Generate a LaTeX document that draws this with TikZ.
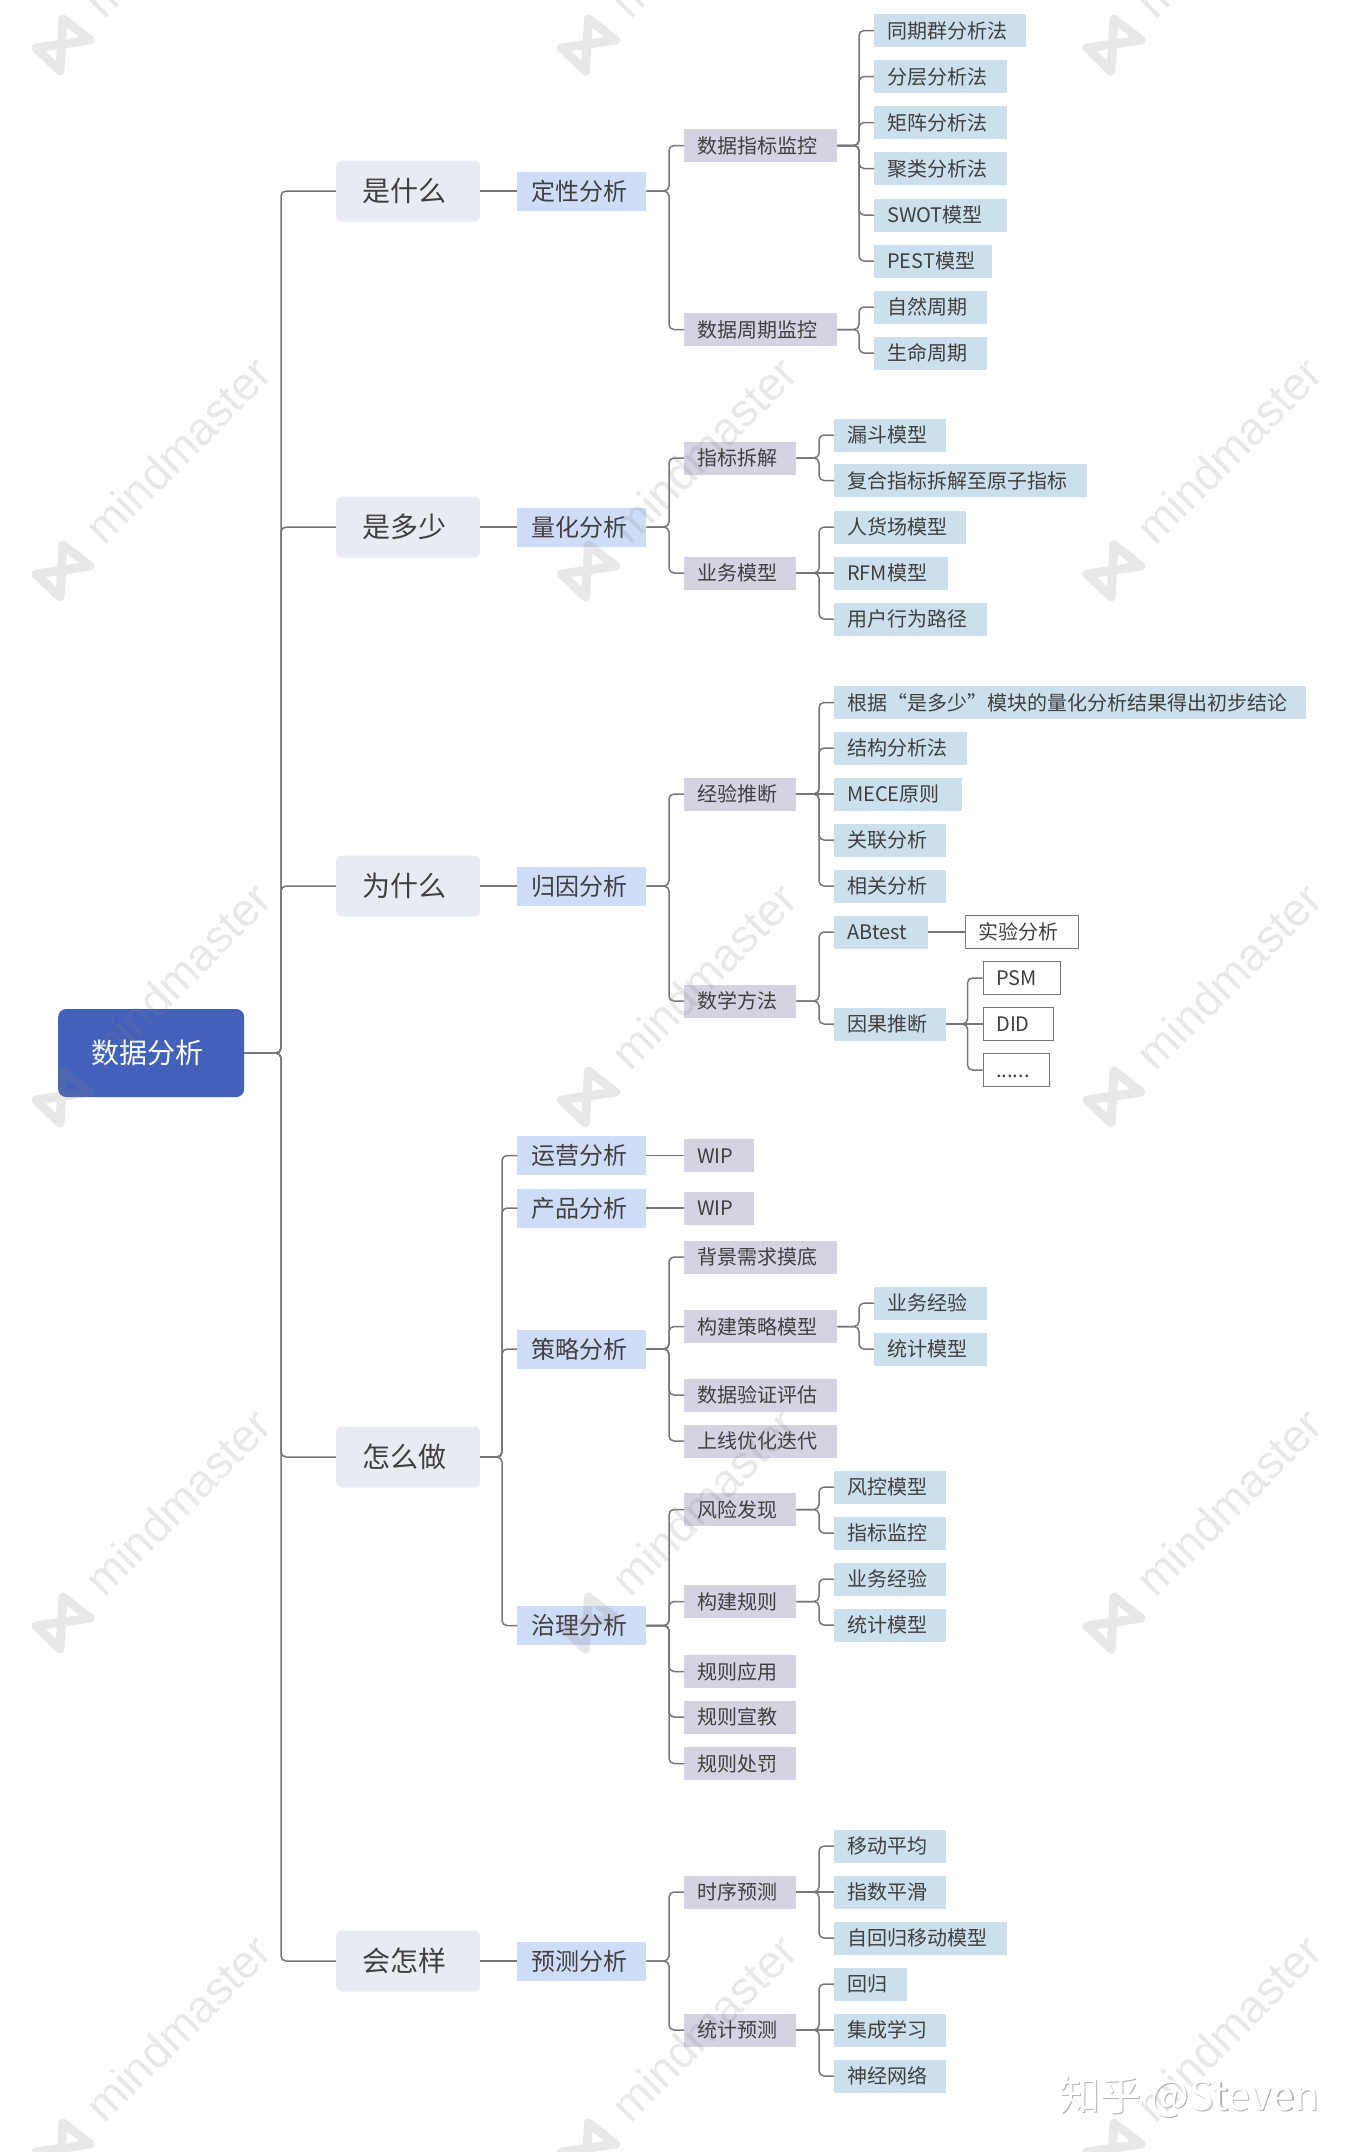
\documentclass[tikz,border=0pt]{standalone}
\usepackage{fontspec}
\setmainfont{Noto Sans CJK SC}
\newfontfamily\markfont{Liberation Sans}
\definecolor{rootblue}{HTML}{4361BB}
\definecolor{topicgray}{HTML}{E9EBF3}
\definecolor{branchblue}{HTML}{CFDCF8}
\definecolor{itemgray}{HTML}{D3D3E2}
\definecolor{leafblue}{HTML}{CCDFEC}
\definecolor{inkgray}{HTML}{404040}
\definecolor{linegray}{HTML}{767676}
\tikzset{
	cell/.style={anchor=west,align=left,inner ysep=0pt,text=inkgray},
	rootbox/.style={cell,fill=rootblue,text=white,rounded corners=8pt,inner xsep=33pt,text width=#1-66pt,minimum height=88pt,
		font=\fontsize{28}{34}\selectfont,text height=25pt,text depth=4pt},
	topicbox/.style={cell,fill=topicgray,rounded corners=6pt,inner xsep=26pt,text width=#1-52pt,minimum height=61pt,
		font=\fontsize{28}{34}\selectfont,text height=25pt,text depth=4pt},
	branchbox/.style={cell,fill=branchblue,inner xsep=14pt,text width=#1-28pt,minimum height=39pt,
		font=\fontsize{24}{29}\selectfont,text height=21.5pt,text depth=3.4pt},
	itembox/.style={cell,fill=itemgray,inner xsep=13pt,text width=#1-26pt,minimum height=33pt,
		font=\fontsize{20}{24}\selectfont,text height=18pt,text depth=2.8pt},
	leafbox/.style={itembox=#1,fill=leafblue},
	plainbox/.style={itembox=#1,fill=white,draw=linegray,line width=1.5pt},
	link/.style={draw=linegray,line width=1.5pt,rounded corners=5pt},
	markword/.style={text=gray,opacity=.18,rotate=45,font=\markfont\fontsize{46}{56}\selectfont},
	marklogo/.style={draw=gray,opacity=.18,line width=9pt,line join=round},
}
\begin{document}
\begin{tikzpicture}[x=1pt,y=-1pt]
	\useasboundingbox (0,0) rectangle (1355,2152);
	% root and topics
	\node[rootbox=186pt] (root) at (58,1053) {数据分析};
	\foreach \n/\yy/\lab in {what/191/是什么,much/527/是多少,why/886/为什么,how/1457/怎么做,next/1961/会怎样}
	\node[topicbox=144pt] (\n) at (336,\yy) {\lab};
	% branches
	\foreach \n/\yy/\lab in {qual/191/定性分析,quant/527/量化分析,cause/886/归因分析,oper/1155.5/运营分析,prod/1208/产品分析,
		strat/1349/策略分析,gov/1625.5/治理分析,fore/1961/预测分析}
	\node[branchbox=129pt] (\n) at (517,\yy) {\lab};
	% items
	\foreach \n/\yy/\w/\lab in {monitor/145.5/153/数据指标监控,cycle/329.5/153/数据周期监控,split/458/112/指标拆解,bizmodel/573/112/业务模型,
		exper/794/112/经验推断,math/1001/112/数学方法,wipa/1155.5/70/WIP,wipb/1208/70/WIP,need/1257/153/背景需求摸底,
		build/1326.5/153/构建策略模型,verify/1395/153/数据验证评估,online/1441/153/上线优化迭代,risk/1509.5/112/风险发现,
		rules/1601.5/112/构建规则,apply/1671.5/112/规则应用,teach/1717/112/规则宣教,punish/1763.5/112/规则处罚,
		series/1892/112/时序预测,statpred/2030/112/统计预测}
	\node[itembox=\w pt] (\n) at (684,\yy) {\lab};
	% leaves of the outer column
	\foreach \n/\yy/\w/\lab in {cohort/30.5/152/同期群分析法,layer/76.5/133/分层分析法,matrix/122.5/133/矩阵分析法,cluster/168.5/133/聚类分析法,
		swot/215/133/SWOT模型,pest/261/118/PEST模型,natural/307/113/自然周期,life/353/113/生命周期,expa/1303/113/业务经验,statb/1349/113/统计模型}
	\node[leafbox=\w pt] (\n) at (874,\yy) {\lab};
	% leaves of the inner column
	\foreach \n/\yy/\w/\lab in {funnel/435/112/漏斗模型,atom/480.5/253/复合指标拆解至原子指标,people/527/132/人货场模型,rfm/573/114/RFM模型,
		path/619/153/用户行为路径,prelim/702.5/472/根据“是多少”模块的量化分析结果得出初步结论,struct/748/133/结构分析法,mece/794/128/MECE原则,
		assoc/840/112/关联分析,corr/886/112/相关分析,abtest/932/94/ABtest,causal/1024/112/因果推断,riskmodel/1487/112/风控模型,
		indic/1533/112/指标监控,expb/1579/112/业务经验,stata/1625/112/统计模型,moving/1846/112/移动平均,smooth/1892/112/指数平滑,
		arma/1938/173/自回归移动模型,regress/1984/73/回归,ensemble/2030/112/集成学习,neural/2076/112/神经网络}
	\node[leafbox=\w pt] (\n) at (834,\yy) {\lab};
	% outlined boxes
	\foreach \n/\xx/\yy/\w/\lab in {trial/964.5/932/113/实验分析,psm/982.5/978/77/PSM,did/982.5/1024/70/DID}
	\node[plainbox=\w pt] (\n) at (\xx,\yy) {\lab};
	\node[plainbox=66pt] (more) at (982.5,1070) {......};
	% connectors
	\foreach \a/\b in {root/what,root/much,root/why,root/how,root/next}
	\draw[link] (\a.east) -| ([xshift=-55pt]\b.west) -- (\b.west);
	\foreach \a/\b in {how/oper,how/prod,how/strat,how/gov,qual/monitor,qual/cycle,quant/split,quant/bizmodel,cause/exper,cause/math,
		strat/need,strat/build,strat/verify,strat/online,gov/risk,gov/rules,gov/apply,gov/teach,gov/punish,fore/series,fore/statpred,
		monitor/cohort,monitor/layer,monitor/matrix,monitor/cluster,monitor/swot,monitor/pest,cycle/natural,cycle/life,
		split/funnel,split/atom,bizmodel/people,bizmodel/path,
		exper/prelim,exper/struct,exper/assoc,exper/corr,math/abtest,math/causal,causal/psm,causal/more,
		build/expa,build/statb,risk/riskmodel,risk/indic,rules/expb,rules/stata,
		series/moving,series/arma,statpred/regress,statpred/neural}
	\draw[link] (\a.east) -| ([xshift=-15pt]\b.west) -- (\b.west);
	% straight connectors
	\foreach \a/\b in {what/qual,much/quant,why/cause,next/fore,oper/wipa,prod/wipb,abtest/trial,bizmodel/rfm,exper/mece,causal/did,
		series/smooth,statpred/ensemble}
	\draw[link] (\a.east) -- (\b.west);
	% watermarks
	\begin{scope}
		\clip (0,0) rectangle (1355,2152);
		\foreach \i in {0,1,2}
		\foreach \j in {-1,0,1,2,3} {
			\node[markword] (word\i\j) at (178+525.5*\i,450+526*\j) {mindmaster};
			\draw[marklogo,shift={(525.5*\i,526*\j)}] (63,545) -- (90,566) -- (36,574) -- (60,597) -- cycle;
		}
	\end{scope}
	% credit
	\node[anchor=west,inner sep=0pt,text=gray!60,font=\fontsize{41}{49}\selectfont] (creditshade) at (1060.5,2098) {知乎 @Steven};
	\node[anchor=west,inner sep=0pt,text=white,font=\fontsize{41}{49}\selectfont] (credit) at (1059,2096.5) {知乎 @Steven};
\end{tikzpicture}
\end{document}
